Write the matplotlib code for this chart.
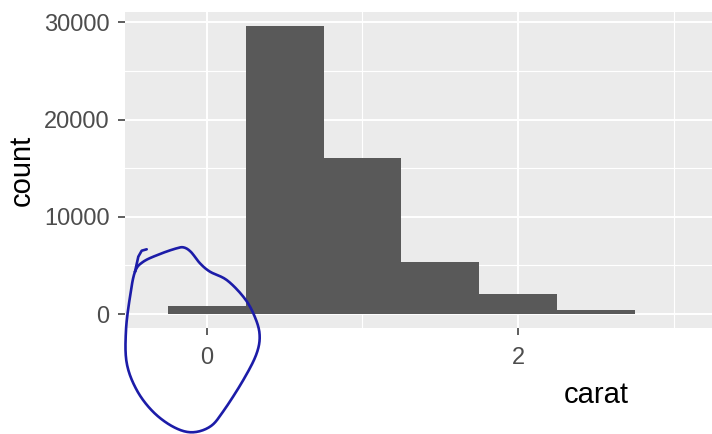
import numpy as np
import matplotlib
matplotlib.use("Agg")
import matplotlib.pyplot as plt
from matplotlib.lines import Line2D
from matplotlib.ticker import FixedLocator

# ---- data ----
bin_left = [-0.25, 0.25, 0.75, 1.25, 1.75, 2.25, 2.75, 3.25, 3.75, 4.25, 4.75]
counts = [820, 29600, 16050, 5340, 2060, 380, 30, 5, 4, 1, 1]
binwidth = 0.5
x_major = [0, 2, 4]
x_minor = [1, 3, 5]
y_major = [0, 10000, 20000, 30000]
y_minor = [5000, 15000, 25000]
x_title = "carat"
y_title = "count"

W, H = 712, 434
fig = plt.figure(figsize=(W / 100, H / 100), dpi=100)
fig.patch.set_facecolor("white")

plt.rcParams["font.family"] = ["Liberation Sans", "DejaVu Sans"]

# panel in pixels; the full ggplot panel is wider than the (cropped) image
px_left, px_top, px_right = 125, 12, W
xmin, xmax = bin_left[0], bin_left[-1] + binwidth
xr = xmax - xmin
full_xlim = (xmin - 0.05 * xr, xmax + 0.05 * xr)
ymax = max(counts)
ylim = (-0.05 * ymax, ymax * 1.05)
px_per_x = 155.7
px_per_y = 291.6 / 30000
full_pw = (full_xlim[1] - full_xlim[0]) * px_per_x
pw = px_right - px_left
xlim = (full_xlim[0], full_xlim[0] + pw / px_per_x)
ph = (ylim[1] - ylim[0]) * px_per_y
ax = fig.add_axes([px_left / W, 1 - (px_top + ph) / H, pw / W, ph / H])
ax.set_facecolor("#EBEBEB")

ax.bar(bin_left, counts, width=binwidth, align="edge", color="#595959",
       edgecolor="none", zorder=3)

ax.set_xlim(*xlim)
ax.set_ylim(*ylim)
ax.xaxis.set_major_locator(FixedLocator(x_major))
ax.xaxis.set_minor_locator(FixedLocator(x_minor))
ax.yaxis.set_major_locator(FixedLocator(y_major))
ax.yaxis.set_minor_locator(FixedLocator(y_minor))
ax.set_xticklabels([str(v) for v in x_major])
ax.set_yticklabels([str(v) for v in y_major])

ax.grid(which="major", color="white", linewidth=1.4, zorder=1)
ax.grid(which="minor", color="white", linewidth=0.8, zorder=1)
ax.set_axisbelow(True)
for s in ax.spines.values():
    s.set_visible(False)

ax.tick_params(axis="both", which="major", length=5, width=1.1, color="#333333",
               labelcolor="#4D4D4D", labelsize=17)
ax.tick_params(axis="x", which="major", pad=8)
ax.tick_params(axis="y", which="major", pad=6)
ax.tick_params(which="minor", length=0)

ax.set_xlabel(x_title, fontsize=21, color="black", labelpad=9)
ax.set_ylabel(y_title, fontsize=21, color="black", labelpad=6)
# x title centred under the full (uncropped) panel
ax.xaxis.label.set_x((full_pw / 2) / pw)

# ---- hand-drawn blue circle annotation (figure pixel coords) ----
pts = np.array([
    (135, 271.7), (143.3, 261.7), (160, 254), (176.7, 248.3), (184, 247.5),
    (191, 252), (200, 263.3), (210, 271.7), (226.7, 280), (243.3, 296.7),
    (253.3, 313.3), (259.5, 333.3), (256.7, 353.3), (243.3, 380), (223, 411.7),
    (210, 426.7), (191.7, 432.3), (173, 426.7), (153, 411.7), (136.7, 390),
    (126.7, 363), (126, 330), (130, 296.7),
])
n = len(pts)
curve = []
for i in range(n):
    p0, p1, p2, p3 = pts[(i - 1) % n], pts[i], pts[(i + 1) % n], pts[(i + 2) % n]
    for t in np.linspace(0, 1, 12, endpoint=False):
        t2, t3 = t * t, t * t * t
        c = 0.5 * ((2 * p1) + (-p0 + p2) * t + (2 * p0 - 5 * p1 + 4 * p2 - p3) * t2
                   + (-p0 + 3 * p1 - 3 * p2 + p3) * t3)
        curve.append(c)
curve.append(curve[0])
curve = np.array(curve)
fig.add_artist(Line2D(curve[:, 0] / W, 1 - curve[:, 1] / H, color="#1C1CA8",
                      linewidth=1.9, transform=fig.transFigure, solid_capstyle="round"))
hook = np.array([(135, 271.7), (138.3, 256.7), (141.7, 250.7), (146.7, 249.3)])
fig.add_artist(Line2D(hook[:, 0] / W, 1 - hook[:, 1] / H, color="#1C1CA8",
                      linewidth=1.9, transform=fig.transFigure, solid_capstyle="round"))

fig.savefig("out.png", dpi=100)
